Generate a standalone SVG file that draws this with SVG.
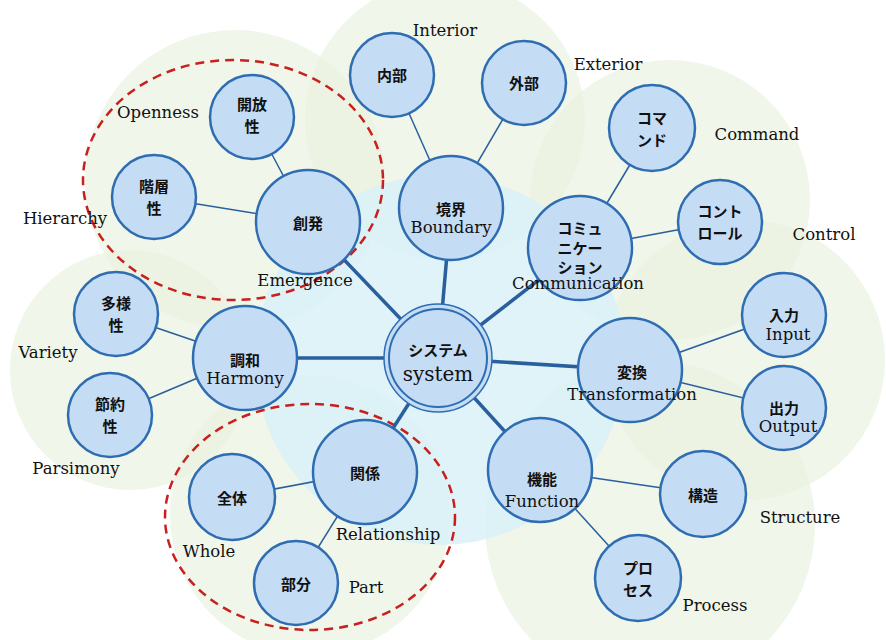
<svg xmlns="http://www.w3.org/2000/svg" width="886" height="640" viewBox="0 0 886 640">
<style>
.bg{fill:#e9f2df;opacity:0.7}
.n{fill:#c5dcf5;stroke:#2f6db2;stroke-width:2.5}
.j{font-family:"Noto Sans CJK JP",sans-serif;font-size:15px;font-weight:bold;fill:#111;text-anchor:middle}
.e{font-family:"DejaVu Serif",serif;font-size:16.5px;fill:#111;text-anchor:middle}
.h{stroke:#2a5f9e;stroke-width:3.5}
.s{stroke:#2a5f9e;stroke-width:1.5}
.d{fill:none;stroke:#c8201e;stroke-width:2.5;stroke-dasharray:9 6}
</style>
<rect width="886" height="640" fill="#fff"/>
<g id="background">
<circle class="bg" cx="445" cy="120" r="140"/>
<circle class="bg" cx="670" cy="200" r="140"/>
<circle class="bg" cx="745" cy="360" r="140"/>
<circle class="bg" cx="650" cy="525" r="165"/>
<circle class="bg" cx="130" cy="370" r="120"/>
<circle class="bg" cx="235" cy="180" r="150"/>
<circle class="bg" cx="310" cy="515" r="140"/>
<circle cx="440" cy="360" r="185" fill="#d9f1f8" opacity="0.85"/>
<ellipse class="d" cx="233" cy="180" rx="150" ry="120"/>
<ellipse class="d" cx="310" cy="517" rx="145" ry="113"/>
</g>
<g id="connectors">
<line class="h" x1="438" y1="358" x2="451" y2="208"/>
<line class="h" x1="438" y1="358" x2="580" y2="248"/>
<line class="h" x1="438" y1="358" x2="630" y2="370"/>
<line class="h" x1="438" y1="358" x2="540" y2="470"/>
<line class="h" x1="438" y1="358" x2="365" y2="472"/>
<line class="h" x1="438" y1="358" x2="245" y2="358"/>
<line class="h" x1="438" y1="358" x2="308" y2="222"/>
<line class="s" x1="451" y1="208" x2="392" y2="75"/>
<line class="s" x1="451" y1="208" x2="524" y2="83"/>
<line class="s" x1="580" y1="248" x2="652" y2="128"/>
<line class="s" x1="580" y1="248" x2="720" y2="222"/>
<line class="s" x1="630" y1="370" x2="784" y2="315"/>
<line class="s" x1="630" y1="370" x2="784" y2="408"/>
<line class="s" x1="540" y1="470" x2="703" y2="494"/>
<line class="s" x1="540" y1="470" x2="638" y2="578"/>
<line class="s" x1="365" y1="472" x2="232" y2="497"/>
<line class="s" x1="365" y1="472" x2="296" y2="583"/>
<line class="s" x1="245" y1="358" x2="116" y2="314"/>
<line class="s" x1="245" y1="358" x2="110" y2="415"/>
<line class="s" x1="308" y1="222" x2="154" y2="197"/>
<line class="s" x1="308" y1="222" x2="252" y2="117"/>
</g>
<g id="system"><circle cx="438" cy="358" r="54" fill="#c5dcf5" stroke="#2f6db2" stroke-width="1.5"/><circle cx="438" cy="358" r="49" fill="#c5dcf5" stroke="#2f6db2" stroke-width="2"/><text class="j" x="438" y="356">システム</text><text class="e" x="438" y="381" style="font-size:20px">system</text></g>
<g id="naibu"><circle class="n" cx="392" cy="75" r="42"/><text class="j" x="392" y="81">内部</text></g>
<g id="gaibu"><circle class="n" cx="524" cy="83" r="42"/><text class="j" x="524" y="89">外部</text></g>
<g id="kyokai"><circle class="n" cx="451" cy="208" r="52"/><text class="j" x="451" y="215">境界</text><text class="e" x="451" y="233">Boundary</text></g>
<g id="command"><circle class="n" cx="652" cy="128" r="43"/><text class="j" x="652" y="124">コマ</text><text class="j" x="652" y="146">ンド</text></g>
<g id="control"><circle class="n" cx="720" cy="222" r="42"/><text class="j" x="720" y="217">コント</text><text class="j" x="720" y="239">ロール</text></g>
<g id="comm"><circle class="n" cx="580" cy="248" r="52"/><text class="j" x="580" y="234">コミュ</text><text class="j" x="580" y="254">ニケー</text><text class="j" x="580" y="273">ション</text></g>
<g id="input"><circle class="n" cx="784" cy="315" r="42"/><text class="j" x="784" y="321">入力</text><text class="e" x="788" y="340">Input</text></g>
<g id="output"><circle class="n" cx="784" cy="408" r="42"/><text class="j" x="784" y="414">出力</text><text class="e" x="788" y="432">Output</text></g>
<g id="henkan"><circle class="n" cx="630" cy="370" r="52"/><text class="j" x="632" y="378">変換</text><text class="e" x="632" y="400">Transformation</text></g>
<g id="kozo"><circle class="n" cx="703" cy="494" r="43"/><text class="j" x="703" y="501">構造</text></g>
<g id="process"><circle class="n" cx="638" cy="578" r="43"/><text class="j" x="638" y="574">プロ</text><text class="j" x="638" y="596">セス</text></g>
<g id="kino"><circle class="n" cx="540" cy="470" r="52"/><text class="j" x="542" y="485">機能</text><text class="e" x="542" y="507">Function</text></g>
<g id="kankei"><circle class="n" cx="365" cy="472" r="52"/><text class="j" x="365" y="479">関係</text></g>
<g id="zentai"><circle class="n" cx="232" cy="497" r="43"/><text class="j" x="232" y="504">全体</text></g>
<g id="bubun"><circle class="n" cx="296" cy="583" r="42"/><text class="j" x="296" y="590">部分</text></g>
<g id="chowa"><circle class="n" cx="245" cy="358" r="52"/><text class="j" x="245" y="366">調和</text><text class="e" x="245" y="384">Harmony</text></g>
<g id="tayosei"><circle class="n" cx="116" cy="314" r="42"/><text class="j" x="116" y="309">多様</text><text class="j" x="116" y="331">性</text></g>
<g id="setsuyaku"><circle class="n" cx="110" cy="415" r="42"/><text class="j" x="110" y="410">節約</text><text class="j" x="110" y="432">性</text></g>
<g id="sohatsu"><circle class="n" cx="308" cy="222" r="52"/><text class="j" x="308" y="229">創発</text></g>
<g id="kaiso"><circle class="n" cx="154" cy="197" r="42"/><text class="j" x="154" y="192">階層</text><text class="j" x="154" y="214">性</text></g>
<g id="kaiho"><circle class="n" cx="252" cy="117" r="42"/><text class="j" x="252" y="110">開放</text><text class="j" x="252" y="132">性</text></g>
<g id="labels">
<text class="e" x="445" y="36">Interior</text>
<text class="e" x="608" y="70">Exterior</text>
<text class="e" x="158" y="118">Openness</text>
<text class="e" x="757" y="140">Command</text>
<text class="e" x="65" y="224">Hierarchy</text>
<text class="e" x="824" y="240">Control</text>
<text class="e" x="305" y="286">Emergence</text>
<text class="e" x="578" y="289">Communication</text>
<text class="e" x="48" y="358">Variety</text>
<text class="e" x="76" y="474">Parsimony</text>
<text class="e" x="209" y="557">Whole</text>
<text class="e" x="388" y="540">Relationship</text>
<text class="e" x="366" y="593">Part</text>
<text class="e" x="800" y="523">Structure</text>
<text class="e" x="715" y="611">Process</text>
</g>
</svg>
